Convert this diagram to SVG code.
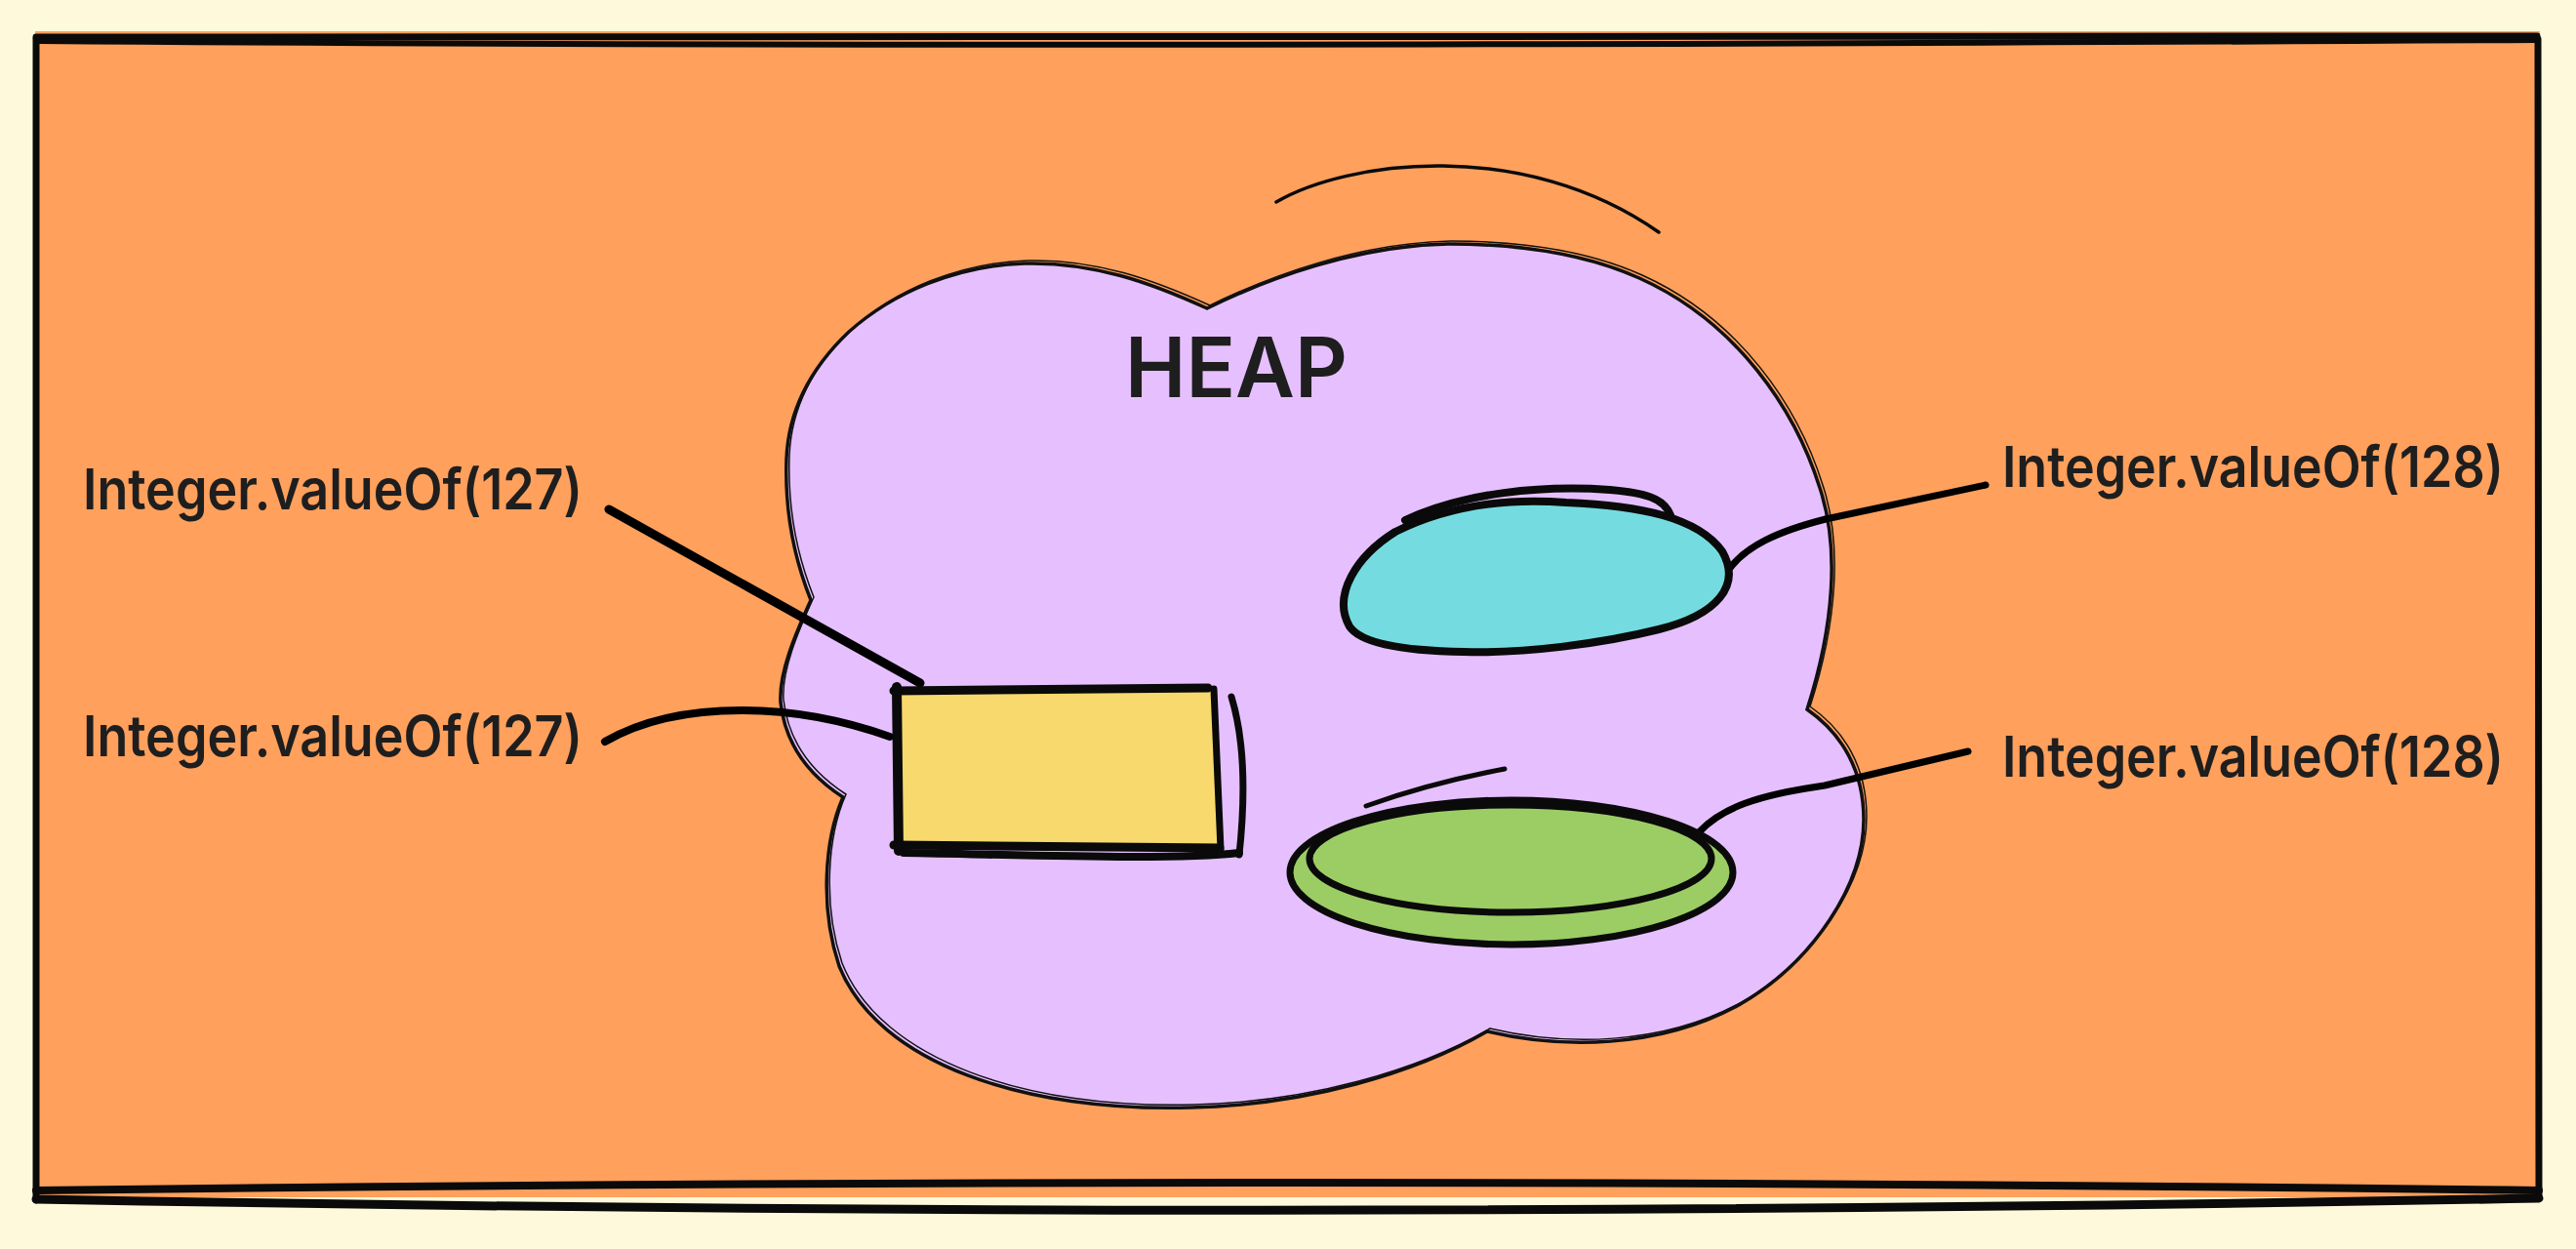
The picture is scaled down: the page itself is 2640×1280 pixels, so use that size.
<svg xmlns="http://www.w3.org/2000/svg" width="2640" height="1280" viewBox="0 0 2640 1280">
  <defs>
    <style>
      .ink { stroke: #0a0a0a; fill: none; stroke-linecap: round; stroke-linejoin: round; }
      .label { font-family: "Inter", "Liberation Sans", "DejaVu Sans", sans-serif; font-weight: 600; fill: #1e1e1e; }
      .conn { stroke: #000; fill: none; stroke-linecap: round; stroke-linejoin: round; }
    </style>
    <path id="cloudShape" d="M1237,316 C1180,290 1120,268 1050,270 C980,272 915,300 870,340 C830,378 808,420 806,470 C804,525 815,575 831,615 C815,650 798,690 800,720 C805,765 830,795 864,817 C845,860 840,930 860,990 C900,1090 1050,1140 1221,1135 C1340,1132 1450,1100 1524,1057 C1600,1075 1700,1075 1782,1030 C1860,985 1910,905 1910,840 C1910,790 1888,752 1852,727 C1880,640 1885,560 1865,500 C1840,420 1780,330 1680,285 C1620,258 1550,250 1484,250 C1390,252 1300,285 1237,316 Z"/>
  </defs>

  <rect width="2640" height="1280" fill="#fff9db"/>

  <g id="frame">
    <rect x="36" y="32" width="2567" height="1195" fill="#ffa05d"/>
    <path class="ink" d="M37,38 L2600,37" stroke-width="7"/>
    <path class="ink" d="M40,42 Q1000,50 2600,41" stroke-width="6"/>
    <path class="ink" d="M37,40 L37,1230" stroke-width="7"/>
    <path class="ink" d="M2601,40 L2602,1228" stroke-width="7"/>
    <path class="ink" d="M37,1220 Q1320,1204 2602,1220" stroke-width="8"/>
    <path class="ink" d="M37,1229 Q1320,1252 2602,1228" stroke-width="9"/>
  </g>

  <g id="heap">
    <use href="#cloudShape" fill="#e6c0fe" stroke="#111" stroke-width="3.5"/>
    <use href="#cloudShape" transform="translate(3,-3)" fill="none" stroke="#111" stroke-width="1.5"/>
    <path class="ink" d="M1308,207 C1380,165 1560,140 1700,238" stroke-width="3.5"/>
    <text class="label" x="1153" y="407" font-size="85" textLength="228" lengthAdjust="spacingAndGlyphs">HEAP</text>
  </g>

  <g id="connectors">
    <path class="conn" d="M624,522 L943,700" stroke-width="9"/>
    <path class="conn" d="M620,760 C660,737 710,728 760,728 C820,728 870,740 912,755" stroke-width="8"/>
    <path class="conn" d="M1773,582 C1790,560 1820,545 1871,532 L2035,497" stroke-width="7"/>
    <path class="conn" d="M1742,852 C1765,828 1800,815 1870,805 L2017,770" stroke-width="7"/>
  </g>

  <g id="yellow-box">
    <path d="M920,710 L1246,706 L1254,868 L922,866 Z" fill="#f7d96e"/>
    <path class="ink" d="M916,708 L1238,705" stroke-width="9"/>
    <path class="ink" d="M919,704 L921,872" stroke-width="10"/>
    <path class="ink" d="M916,866 L1250,869" stroke-width="9"/>
    <path class="ink" d="M926,874 C1050,876 1200,882 1270,874" stroke-width="8"/>
    <path class="ink" d="M1244,706 L1251,870" stroke-width="7"/>
    <path class="ink" d="M1262,714 C1276,760 1276,820 1270,876" stroke-width="7"/>
  </g>

  <g id="cyan-ellipse">
    <path d="M1383,642 C1365,610 1390,570 1430,545 C1480,520 1540,510 1605,515 C1680,518 1740,530 1765,565 C1785,600 1760,630 1700,645 C1640,660 1560,670 1500,668 C1440,667 1395,660 1383,642 Z" fill="#74dce0" stroke="#0a0a0a" stroke-width="8"/>
    <path class="ink" d="M1440,533 C1500,505 1580,497 1650,502 C1685,505 1705,510 1712,528" stroke-width="8"/>
  </g>

  <g id="green-ellipse">
    <ellipse cx="1549" cy="894" rx="227" ry="74" fill="#9ccd65" stroke="#0a0a0a" stroke-width="7"/>
    <ellipse cx="1548" cy="880" rx="206" ry="55" fill="none" stroke="#0a0a0a" stroke-width="7"/>
    <path class="ink" d="M1400,826 C1450,808 1500,796 1542,788" stroke-width="5"/>
  </g>

  <g id="labels">
    <text class="label" x="85" y="522" font-size="58" textLength="512" lengthAdjust="spacingAndGlyphs">Integer.valueOf(127)</text>
    <text class="label" x="85" y="775" font-size="58" textLength="512" lengthAdjust="spacingAndGlyphs">Integer.valueOf(127)</text>
    <text class="label" x="2052" y="499" font-size="58" textLength="514" lengthAdjust="spacingAndGlyphs">Integer.valueOf(128)</text>
    <text class="label" x="2052" y="796" font-size="58" textLength="514" lengthAdjust="spacingAndGlyphs">Integer.valueOf(128)</text>
  </g>
</svg>
